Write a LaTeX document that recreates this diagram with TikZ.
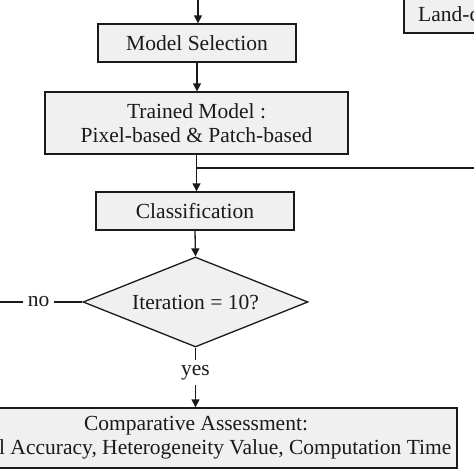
\documentclass[tikz,border=0pt]{standalone}
\usepackage{fontspec}
\setmainfont{Liberation Serif}
\usetikzlibrary{arrows.meta,shapes.geometric}
\definecolor{boxfill}{HTML}{F0F0F0}
\definecolor{ink}{HTML}{1A1A1A}
\begin{document}
\begin{tikzpicture}[x=1pt,y=1pt,
  every node/.style={font=\fontsize{21.5}{24}\selectfont, text=ink},
  procbox/.style={draw=ink, line width=1.3pt, fill=boxfill, inner sep=0pt, align=center},
  decbox/.style={draw=ink, line width=1.3pt, fill=boxfill, diamond, aspect=2.5, inner sep=0pt,
     minimum width=225pt, minimum height=90pt},
  conn/.style={draw=ink, line width=1.3pt},
  arr/.style={conn, -{Triangle[length=8pt,width=8pt]}},
  lbl/.style={fill=white, inner sep=5pt}
]
\useasboundingbox (0,-474) rectangle (474,0);
\clip (0,-474) rectangle (474,0);
\fill[white] (0,-474) rectangle (474,0);

% Land-cover box (cut by the right edge)
\draw[conn, fill=boxfill] (404,-33) rectangle (520,10);
\node[anchor=base west, inner sep=0pt] (land) at (418,-21) {Land-cover};

\coordinate (topin) at (198,5);
\node[procbox, minimum width=198pt, minimum height=38pt] (ms) at (197,-43) {Model Selection};
\node[procbox, minimum width=303pt, minimum height=62pt] (tm) at (196.5,-123) {Trained Model :\\Pixel-based \& Patch-based};
\node[procbox, minimum width=198pt, minimum height=38pt] (cl) at (195,-211) {Classification};
\node[decbox] (it) at (195.5,-302) {Iteration = 10?};
\node[procbox, minimum width=522pt, minimum height=60pt] (ca) at (196,-438) {Comparative Assessment:\\Overall Accuracy, Heterogeneity Value, Computation Time};

\coordinate (jn) at (tm.south |- 0,-168);
\coordinate (jnr) at (480,-168);
\coordinate (noend) at (-5,-302);

\draw[arr] (topin) -- (topin |- ms.north);
\draw[arr] (ms) -- (ms |- tm.north);
\draw[conn] (tm.south) -- (jn);
\draw[arr] (jn) -- (jn |- cl.north);
\draw[conn] (jn) -- (jnr);
\draw[arr] (cl.south) -- (it.north);
\draw[conn] (it.west) -- node[lbl] (no) {no} (noend);
\draw[arr] (it.south) -- node[lbl, pos=0.42] (yes) {yes} (it.south |- ca.north);
\end{tikzpicture}
\end{document}
